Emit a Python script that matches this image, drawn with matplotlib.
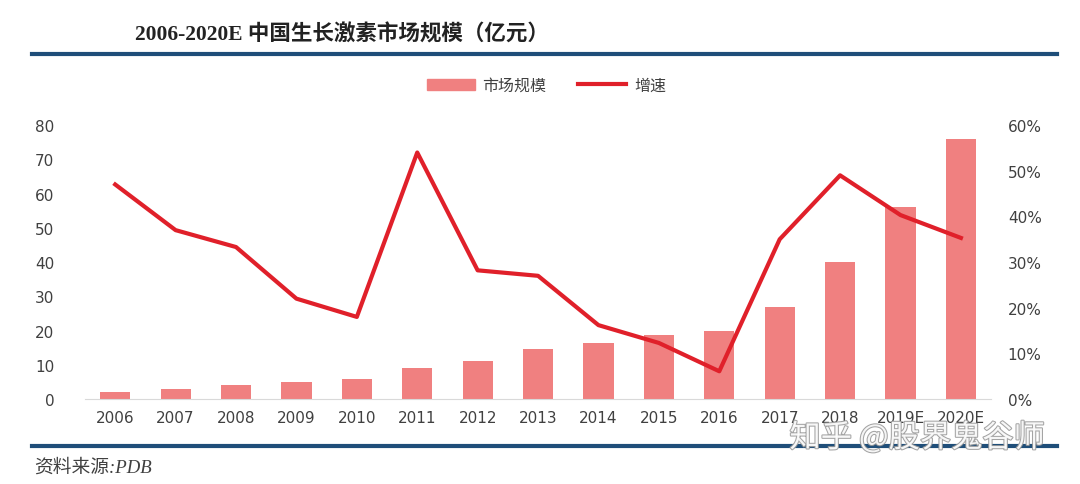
import matplotlib
matplotlib.use('Agg')
import matplotlib.pyplot as plt
import matplotlib.patheffects as pe
from matplotlib.lines import Line2D
from matplotlib.patches import Patch
import numpy as np

plt.rcParams['font.family'] = ['DejaVu Sans', 'Noto Sans CJK SC']

years = ['2006', '2007', '2008', '2009', '2010', '2011', '2012', '2013',
         '2014', '2015', '2016', '2017', '2018', '2019E', '2020E']
market = [2, 3, 4, 5, 6, 9, 11, 14.5, 16.5, 18.8, 20, 26.8, 40, 56, 76]
growth = [47, 37, 33.3, 22, 18, 54, 28.2, 27, 16.2, 12.3, 6.1, 35, 49, 40.3, 35.3]

bar_color = '#F08080'
line_color = '#E0202A'
text_color = '#404040'

fig = plt.figure(figsize=(10.8, 4.85), dpi=100)
ax = fig.add_axes([0.0787, 0.175, 0.839, 0.565])
x = np.arange(len(years))
ax.bar(x, market, width=0.5, color=bar_color, zorder=2)
ax.set_xlim(-0.5, len(years) - 0.5)
ax.set_ylim(0, 80)
ax.set_yticks(range(0, 81, 10))
ax.set_xticks(x)
ax.set_xticklabels(years)
for s in ['top', 'left', 'right']:
    ax.spines[s].set_visible(False)
ax.spines['bottom'].set_color('#d9d9d9')
ax.tick_params(length=0, labelsize=11, colors=text_color, pad=8)
ax.tick_params(axis='y', pad=22)

ax2 = ax.twinx()
ax2.plot(x, growth, color=line_color, lw=3, zorder=3)
ax2.set_ylim(0, 60)
ax2.set_yticks(range(0, 61, 10))
ax2.set_yticklabels([f'{v}%' for v in range(0, 61, 10)])
for s in ax2.spines.values():
    s.set_visible(False)
ax2.tick_params(length=0, labelsize=11, colors=text_color, pad=12)

# legend
handles = [Patch(color=bar_color), Line2D([], [], color=line_color, lw=3)]
fig.legend(handles, ['市场规模', '增速'], loc='center', bbox_to_anchor=(0.506, 0.822),
           ncol=2, frameon=False, fontsize=11.5, handlelength=3.0, handleheight=0.7,
           columnspacing=2.0, handletextpad=0.5, labelcolor=text_color)

# title and rules
fig.text(0.125, 0.928, '2006-2020E 中国生长激素市场规模（亿元）',
         family=['Liberation Serif', 'Noto Sans CJK SC'], fontweight='bold',
         fontsize=15.5, color='#222222', va='center')
fig.add_artist(Line2D([0.03, 0.979], [0.887, 0.887], color='#1F4E79', lw=3))
fig.add_artist(Line2D([0.03, 0.979], [0.078, 0.078], color='#1F4E79', lw=3))
fig.text(0.032, 0.036, '资料来源:PDB', family=['Liberation Serif', 'Noto Sans CJK SC'],
         style='italic', fontsize=13.5, color='#404040', va='center')

# watermark
fig.text(0.731, 0.095, '知乎 @股界鬼谷师', fontsize=22.5, color='white', va='center',
         family=['Noto Sans CJK SC', 'DejaVu Sans'], alpha=0.9,
         path_effects=[pe.withStroke(linewidth=1.5, foreground='#9a9a9a')])

fig.savefig('out.png', dpi=100)
